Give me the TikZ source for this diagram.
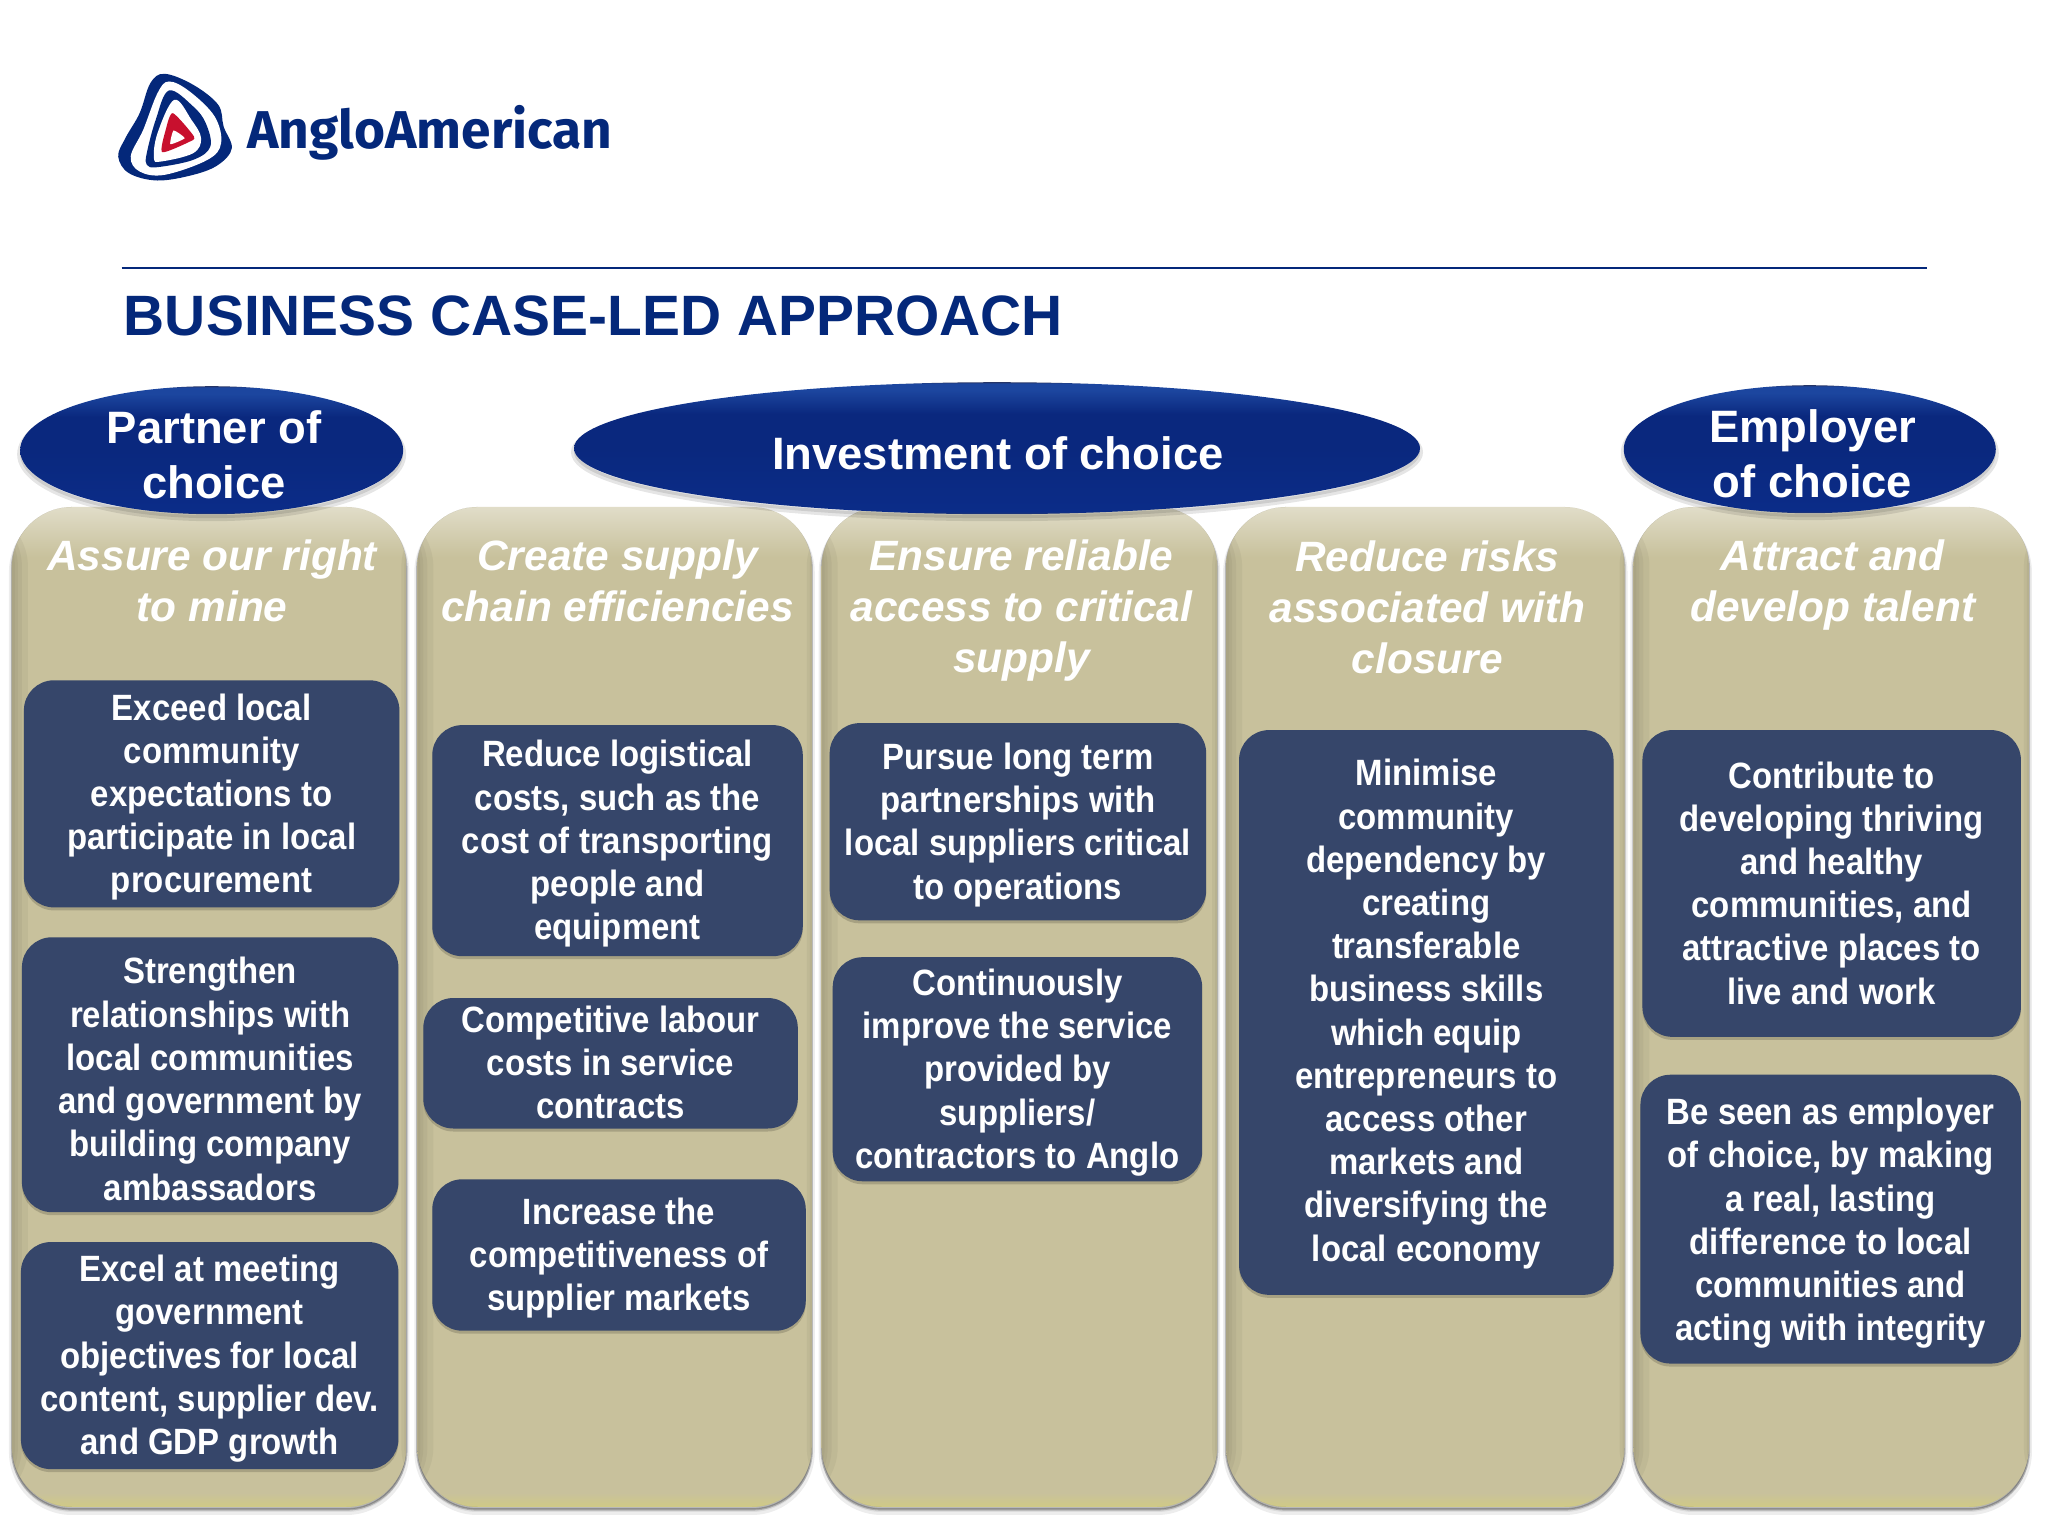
\documentclass[tikz,border=0pt]{standalone}
\usepackage{fontspec}
\setmainfont{Liberation Sans}
\newfontfamily\narrowf[FakeStretch=0.90]{Liberation Sans}
\newfontfamily\logof{Fira Sans}
\usetikzlibrary{shapes.geometric}
\definecolor{navy}{HTML}{04287A}
\definecolor{boxblue}{HTML}{36466A}
\definecolor{tan}{HTML}{C8C19C}
\definecolor{logored}{HTML}{C8102E}
\definecolor{ovEdge}{HTML}{24376F}
\definecolor{ovLite}{HTML}{1C469F}
\definecolor{ovMid}{HTML}{0A287E}
\definecolor{ovLow}{HTML}{0B2C88}
\pgfdeclareverticalshading{ovalshade}{100bp}{
  color(0bp)=(ovEdge); color(25bp)=(ovEdge); color(26bp)=(ovLow);
  color(50bp)=(ovMid); color(63bp)=(ovMid); color(72bp)=(ovLite); color(74.5bp)=(ovLite);
  color(75bp)=(ovEdge); color(100bp)=(ovEdge)}
\pgfdeclareverticalshading{panelshade}{100bp}{
  color(0bp)=(tan!85!yellow); color(25bp)=(tan!85!yellow); color(25.7bp)=(tan);
  color(72.5bp)=(tan); color(75bp)=(tan!55!white); color(100bp)=(tan!55!white)}
\tikzset{
  x=0.498pt,y=-0.498pt,
  sidestrip/.style={fill=tan!55!black,opacity=.09},
  panel/.style={rectangle,rounded corners=30pt,shading=panelshade,inner sep=0pt,
    preaction={draw=black,line width=3pt,opacity=.07,fill=black,fill opacity=.07,transform canvas={yshift=-2.5pt}},
    preaction={draw=black,line width=1.2pt,opacity=.22,fill=black,fill opacity=.22,transform canvas={yshift=-1.2pt}},
    path picture={
      \foreach \w in {1.5,3,5,8}{
        \path[sidestrip] (path picture bounding box.south west) rectangle ([xshift=\w pt]path picture bounding box.north west);}
      \foreach \w in {1,2.5}{
        \path[sidestrip] (path picture bounding box.south east) rectangle ([xshift=-\w pt]path picture bounding box.north east);}
    }},
  oval/.style={ellipse,shading=ovalshade,inner sep=0pt,
    preaction={fill=black,opacity=.10,draw=black,line width=3pt,transform canvas={yshift=-2pt}}},
  ovaltext/.style={text=white,align=center,inner sep=0pt,yshift=-2.4pt,
    font=\bfseries\fontsize{22.7}{27.5}\selectfont},
  paneltitle/.style={text=white,align=center,inner sep=0pt,
    font=\bfseries\itshape\fontsize{21.2}{25.6}\selectfont},
  textbox/.style={rectangle,rounded corners=15pt,fill=boxblue,inner sep=0pt,
    preaction={fill=black,opacity=.16,transform canvas={yshift=-1.5pt}}},
  boxtext/.style={text=white,align=center,inner sep=0pt,yshift=-1.6pt,
    font=\narrowf\bfseries\fontsize{18.3}{21.6}\selectfont},
  pagetitle/.style={anchor=base west,inner sep=0pt,text=navy,font=\bfseries\fontsize{28.45}{34}\selectfont},
  logotext/.style={anchor=base west,inner sep=0pt,text=navy,font=\logof\bfseries\fontsize{26.6}{30}\selectfont}
}
\newcommand{\panelat}[5]{\node[panel,minimum width={(#4-#2)*0.498},minimum height={(#5-#3)*0.498}] (#1) at ({(#2+#4)/2},{(#3+#5)/2}) {};}
\newcommand{\tbox}[7][0]{\node[textbox,minimum width={(#5-#3)*0.498},minimum height={(#6-#4)*0.498}] (#2) at ({(#3+#5)/2},{(#4+#6)/2}) {};
  \node[boxtext,yshift=#1pt] (#2t) at (#2.center) {#7};}
\begin{document}
\begin{tikzpicture}
\useasboundingbox (0,0) rectangle (2056.2,1542.2);
\fill[white] (0,0) rectangle (2056.2,1542.2);
% logo
\begin{scope}[shift={(90,50)},x=0.1786pt,y=-0.1667pt]
\fill[navy] plot[smooth cycle,tension=.6] coordinates {(210,72) (290,105) (360,165) (375,230) (398,295) (360,345) (290,375) (190,392) (110,370) (80,320) (100,265) (140,190) (170,100)};
\fill[white] plot[smooth cycle,tension=.6] coordinates {(222,95) (280,125) (350,200) (368,280) (330,330) (210,375) (140,365) (115,320) (150,240) (190,130)};
\fill[navy] plot[smooth cycle,tension=.6] coordinates {(222,122) (290,170) (325,220) (338,290) (290,330) (190,352) (160,345) (160,310) (185,210)};
\fill[white] plot[smooth cycle,tension=.6] coordinates {(237,150) (285,210) (312,265) (290,310) (200,335) (180,325) (190,250)};
\fill[logored] plot[smooth cycle,tension=.4] coordinates {(233,190) (292,260) (277,277) (203,307) (213,240)};
\fill[white] plot[smooth cycle,tension=.3] coordinates {(235,242) (266,265) (226,283)};
\end{scope}
\node[logotext] (logoname) at (248,149) {AngloAmerican};
% rule and title
\coordinate (ruleL) at (122,269);
\coordinate (ruleR) at (1935,269);
\draw[navy,line width=1.4pt] (ruleL) -- (ruleR);
\node[pagetitle] (title) at (124,336.5) {BUSINESS CASE-LED APPROACH};
% panels
\panelat{p1}{12}{509}{408}{1513}
\panelat{p2}{419}{509}{815}{1513}
\panelat{p3}{825}{509}{1222}{1513}
\panelat{p4}{1231}{509}{1631}{1513}
\panelat{p5}{1640}{509}{2037}{1513}
% ovals
\node[oval,minimum width=191.5pt,minimum height=64pt] (o1) at (212.5,452) {};
\node[oval,minimum width=423pt,minimum height=66pt] (o2) at (1001,450) {};
\node[oval,minimum width=186pt,minimum height=64pt] (o3) at (1817,451) {};
\node[ovaltext] (o1t) at ([xshift=1.2pt]o1.center) {Partner of\\choice};
\node[ovaltext] (o2t) at ([xshift=.4pt]o2.center) {Investment of choice};
\node[ovaltext] (o3t) at ([xshift=1.4pt]o3.center) {Employer\\of choice};
% panel titles
\node[paneltitle] (t1) at (213,583) {Assure our right\\to mine};
\node[paneltitle] (t2) at (620,583) {Create supply\\chain efficiencies};
\node[paneltitle] (t3) at (1025.5,613) {Ensure reliable\\access to critical\\supply};
\node[paneltitle] (t4) at (1433,610) {Reduce risks\\associated with\\closure};
\node[paneltitle] (t5) at (1840,587) {Attract and\\develop talent};
% boxes
\tbox{a1}{24}{683}{401}{911}{Exceed local\\community\\expectations to\\participate in local\\procurement}
\tbox[-.5]{a2}{22}{941}{400}{1217}{Strengthen\\relationships with\\local communities\\and government by\\building company\\ambassadors}
\tbox{a3}{21}{1247}{400}{1475}{Excel at meeting\\government\\objectives for local\\content, supplier dev.\\and GDP growth}
\tbox{b1}{434}{728}{806}{960}{Reduce logistical\\costs, such as the\\cost of transporting\\people and\\equipment}
\tbox[2]{b2}{425}{1002}{801}{1133}{Competitive labour\\costs in service\\contracts}
\tbox{b3}{434}{1184}{809}{1336}{Increase the\\competitiveness of\\supplier markets}
\tbox{c1}{833}{726}{1211}{924}{Pursue long term\\partnerships with\\local suppliers critical\\to operations}
\tbox{c2}{836}{961}{1207}{1186}{Continuously\\improve the service\\provided by\\suppliers/\\contractors to Anglo}
\tbox[.8]{d1}{1244}{733}{1620}{1300}{Minimise\\community\\dependency by\\creating\\transferable\\business skills\\which equip\\entrepreneurs to\\access other\\markets and\\diversifying the\\local economy}
\tbox[1.8]{e1}{1649}{733}{2029}{1041}{Contribute to\\developing thriving\\and healthy\\communities, and\\attractive places to\\live and work}
\tbox[-.5]{e2}{1647}{1079}{2029}{1369}{Be seen as employer\\of choice, by making\\a real, lasting\\difference to local\\communities and\\acting with integrity}
\end{tikzpicture}
\end{document}
